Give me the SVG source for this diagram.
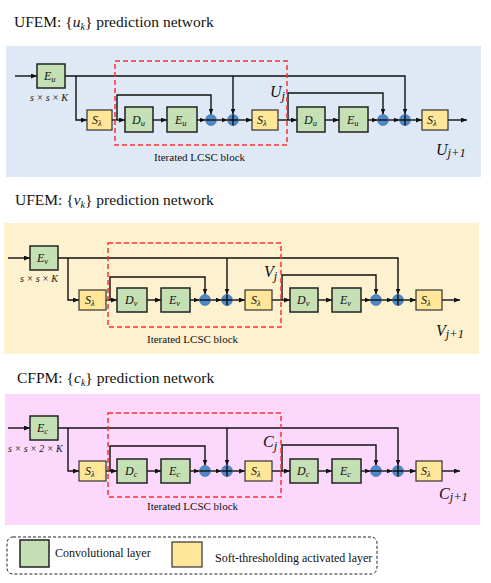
<svg xmlns="http://www.w3.org/2000/svg" width="491" height="583" viewBox="0 0 491 583">
<defs>
<marker id="ar" markerWidth="6" markerHeight="5" refX="6" refY="2.5" orient="auto" markerUnits="userSpaceOnUse"><path d="M0,0 L6,2.5 L0,5 Z" fill="#111"/></marker>
<style>
.t{font-family:"Liberation Serif",serif;fill:#111}
.title{font-size:15.5px}
.it{font-style:italic}
.conv{fill:#c5e0b4;stroke:#222;stroke-width:1.5}
.soft{fill:#ffe699;stroke:#333;stroke-width:1.2}
.ln{fill:none;stroke:#111;stroke-width:1.4}
.arr{fill:none;stroke:#111;stroke-width:1.4;marker-end:url(#ar)}
.sum{fill:#4d88c8;stroke:#3a6fa8;stroke-width:0.6}
.red{fill:none;stroke:#ff3030;stroke-width:1.5;stroke-dasharray:5,3}
.bl{font-family:"Liberation Serif",serif;font-style:italic;font-size:12px;fill:#111}
.sub{font-size:8.5px}
.lab{font-family:"Liberation Serif",serif;font-style:italic;font-size:16px;fill:#111}
.small{font-family:"Liberation Serif",serif;font-size:11px;fill:#111}
.dim{font-family:"Liberation Serif",serif;font-style:italic;font-size:10px;fill:#111}
.leg{font-family:"Liberation Serif",serif;font-size:12px;fill:#111}
</style>
</defs>

<!-- Panel backgrounds -->
<rect x="6" y="46" width="475" height="131" fill="#dfe9f5"/>
<rect x="4" y="223" width="475" height="131" fill="#fdf1cf"/>
<rect x="5" y="394" width="475" height="131" fill="#fcd9fc"/>

<!-- Titles -->
<text class="t title" x="14" y="27">UFEM:  {<tspan class="it">u</tspan><tspan class="it" font-size="10" dy="3">k</tspan><tspan dy="-3">} prediction network</tspan></text>
<text class="t title" x="15" y="205">UFEM: {<tspan class="it">v</tspan><tspan class="it" font-size="10" dy="3">k</tspan><tspan dy="-3">} prediction network</tspan></text>
<text class="t title" x="17" y="383">CFPM: {<tspan class="it">c</tspan><tspan class="it" font-size="10" dy="3">k</tspan><tspan dy="-3">} prediction network</tspan></text>

<!-- Connectors -->
<g id="connectors">
<!-- panel 1 -->
<path class="arr" d="M15,76 H37"/>
<path class="arr" d="M65,76 H405 V114.5"/>
<path class="arr" d="M233,76 V114.5"/>
<path class="arr" d="M76,76 V120 H87"/>
<path class="arr" d="M112,120 H125"/>
<path class="arr" d="M117,120 V95 H211 V114.5"/>
<path class="arr" d="M153,120 H167"/>
<path class="arr" d="M197,120 H205.5"/>
<path class="arr" d="M216.5,120 H227.5"/>
<path class="arr" d="M238.5,120 H252"/>
<path class="arr" d="M278,120 H297"/>
<path class="arr" d="M288,120 V93 H383 V114.5"/>
<path class="arr" d="M325,120 H339"/>
<path class="arr" d="M368,120 H377.5"/>
<path class="arr" d="M388.5,120 H399.5"/>
<path class="arr" d="M410.5,120 H422"/>
<path class="arr" d="M448,120 H467"/>
<!-- panel 2 -->
<path class="arr" d="M8,258 H30"/>
<path class="arr" d="M58,258 H398 V294.5"/>
<path class="arr" d="M227,258 V294.5"/>
<path class="arr" d="M68,258 V300 H79"/>
<path class="arr" d="M106,300 H117"/>
<path class="arr" d="M110,300 V277 H205 V294.5"/>
<path class="arr" d="M147,300 H161"/>
<path class="arr" d="M190,300 H199.5"/>
<path class="arr" d="M210.5,300 H221.5"/>
<path class="arr" d="M232.5,300 H245"/>
<path class="arr" d="M272,300 H290"/>
<path class="arr" d="M282,300 V275 H376 V294.5"/>
<path class="arr" d="M318,300 H332"/>
<path class="arr" d="M361,300 H370.5"/>
<path class="arr" d="M381.5,300 H392.5"/>
<path class="arr" d="M403.5,300 H416"/>
<path class="arr" d="M442,300 H460"/>
<!-- panel 3 -->
<path class="arr" d="M8,428 H30"/>
<path class="arr" d="M58,428 H398 V465.5"/>
<path class="arr" d="M227,428 V465.5"/>
<path class="arr" d="M68,428 V471 H79"/>
<path class="arr" d="M106,471 H117"/>
<path class="arr" d="M110,471 V446 H205 V465.5"/>
<path class="arr" d="M147,471 H161"/>
<path class="arr" d="M190,471 H199.5"/>
<path class="arr" d="M210.5,471 H221.5"/>
<path class="arr" d="M232.5,471 H245"/>
<path class="arr" d="M272,471 H290"/>
<path class="arr" d="M282,471 V445 H376 V465.5"/>
<path class="arr" d="M318,471 H332"/>
<path class="arr" d="M361,471 H370.5"/>
<path class="arr" d="M381.5,471 H392.5"/>
<path class="arr" d="M403.5,471 H416"/>
<path class="arr" d="M442,471 H460"/>
</g>

<!-- Panel 1 nodes -->
<g id="p1-Eu0"><rect class="conv" x="37" y="64" width="28" height="24"/><text class="bl" x="44" y="80">E<tspan class="sub" dy="2">u</tspan></text></g>
<g id="p1-S1"><rect class="soft" x="87" y="110" width="25" height="20"/><text class="bl" x="92" y="124">S<tspan class="sub" dy="2">λ</tspan></text></g>
<g id="p1-D1"><rect class="conv" x="125" y="107" width="28" height="25"/><text class="bl" x="132" y="124">D<tspan class="sub" dy="2">u</tspan></text></g>
<g id="p1-E1"><rect class="conv" x="167" y="107" width="30" height="25"/><text class="bl" x="175" y="124">E<tspan class="sub" dy="2">u</tspan></text></g>
<g id="p1-m1"><circle class="sum" cx="211" cy="120" r="5.5"/><path class="ln" d="M205.5,120 H216.5"/></g>
<g id="p1-p1"><circle class="sum" cx="233" cy="120" r="5.5"/><path class="ln" d="M227.5,120 H238.5 M233,114.5 V125.5"/></g>
<g id="p1-S2"><rect class="soft" x="252" y="110" width="26" height="20"/><text class="bl" x="257" y="124">S<tspan class="sub" dy="2">λ</tspan></text></g>
<g id="p1-D2"><rect class="conv" x="297" y="107" width="28" height="25"/><text class="bl" x="304" y="124">D<tspan class="sub" dy="2">u</tspan></text></g>
<g id="p1-E2"><rect class="conv" x="339" y="107" width="29" height="25"/><text class="bl" x="347" y="124">E<tspan class="sub" dy="2">u</tspan></text></g>
<g id="p1-m2"><circle class="sum" cx="383" cy="120" r="5.5"/><path class="ln" d="M377.5,120 H388.5"/></g>
<g id="p1-p2"><circle class="sum" cx="405" cy="120" r="5.5"/><path class="ln" d="M399.5,120 H410.5 M405,114.5 V125.5"/></g>
<g id="p1-S3"><rect class="soft" x="422" y="110" width="26" height="20"/><text class="bl" x="427" y="124">S<tspan class="sub" dy="2">λ</tspan></text></g>
<rect class="red" x="115" y="61" width="172" height="84"/>
<text class="lab" x="270" y="97">U<tspan font-size="12.5" dy="3">j</tspan></text>
<text class="lab" x="436" y="155">U<tspan font-size="12.5" dy="2">j+1</tspan></text>
<text class="dim" x="30" y="101">s × s × K</text>
<text class="small" x="154" y="161">Iterated LCSC block</text>

<!-- Panel 2 nodes -->
<g id="p2-Ev0"><rect class="conv" x="30" y="246" width="28" height="24"/><text class="bl" x="37" y="262">E<tspan class="sub" dy="2">v</tspan></text></g>
<g id="p2-S1"><rect class="soft" x="79" y="290" width="27" height="20"/><text class="bl" x="85" y="304">S<tspan class="sub" dy="2">λ</tspan></text></g>
<g id="p2-D1"><rect class="conv" x="117" y="288" width="30" height="24"/><text class="bl" x="125" y="304">D<tspan class="sub" dy="2">v</tspan></text></g>
<g id="p2-E1"><rect class="conv" x="161" y="288" width="29" height="24"/><text class="bl" x="169" y="304">E<tspan class="sub" dy="2">v</tspan></text></g>
<g id="p2-m1"><circle class="sum" cx="205" cy="300" r="5.5"/><path class="ln" d="M199.5,300 H210.5"/></g>
<g id="p2-p1"><circle class="sum" cx="227" cy="300" r="5.5"/><path class="ln" d="M221.5,300 H232.5 M227,294.5 V305.5"/></g>
<g id="p2-S2"><rect class="soft" x="245" y="290" width="27" height="20"/><text class="bl" x="251" y="304">S<tspan class="sub" dy="2">λ</tspan></text></g>
<g id="p2-D2"><rect class="conv" x="290" y="288" width="28" height="24"/><text class="bl" x="297" y="304">D<tspan class="sub" dy="2">v</tspan></text></g>
<g id="p2-E2"><rect class="conv" x="332" y="288" width="29" height="24"/><text class="bl" x="340" y="304">E<tspan class="sub" dy="2">v</tspan></text></g>
<g id="p2-m2"><circle class="sum" cx="376" cy="300" r="5.5"/><path class="ln" d="M370.5,300 H381.5"/></g>
<g id="p2-p2"><circle class="sum" cx="398" cy="300" r="5.5"/><path class="ln" d="M392.5,300 H403.5 M398,294.5 V305.5"/></g>
<g id="p2-S3"><rect class="soft" x="416" y="290" width="26" height="20"/><text class="bl" x="421" y="304">S<tspan class="sub" dy="2">λ</tspan></text></g>
<rect class="red" x="108" y="243" width="173" height="84"/>
<text class="lab" x="264" y="277">V<tspan font-size="12.5" dy="3">j</tspan></text>
<text class="lab" x="436" y="336">V<tspan font-size="12.5" dy="2">j+1</tspan></text>
<text class="dim" x="20" y="282">s × s × K</text>
<text class="small" x="147" y="343">Iterated LCSC block</text>

<!-- Panel 3 nodes -->
<g id="p3-Ec0"><rect class="conv" x="30" y="416" width="28" height="24"/><text class="bl" x="37" y="432">E<tspan class="sub" dy="2">c</tspan></text></g>
<g id="p3-S1"><rect class="soft" x="79" y="461" width="27" height="20"/><text class="bl" x="85" y="475">S<tspan class="sub" dy="2">λ</tspan></text></g>
<g id="p3-D1"><rect class="conv" x="117" y="459" width="30" height="24"/><text class="bl" x="125" y="475">D<tspan class="sub" dy="2">c</tspan></text></g>
<g id="p3-E1"><rect class="conv" x="161" y="459" width="29" height="24"/><text class="bl" x="169" y="475">E<tspan class="sub" dy="2">c</tspan></text></g>
<g id="p3-m1"><circle class="sum" cx="205" cy="471" r="5.5"/><path class="ln" d="M199.5,471 H210.5"/></g>
<g id="p3-p1"><circle class="sum" cx="227" cy="471" r="5.5"/><path class="ln" d="M221.5,471 H232.5 M227,465.5 V476.5"/></g>
<g id="p3-S2"><rect class="soft" x="245" y="461" width="27" height="20"/><text class="bl" x="251" y="475">S<tspan class="sub" dy="2">λ</tspan></text></g>
<g id="p3-D2"><rect class="conv" x="290" y="459" width="28" height="24"/><text class="bl" x="297" y="475">D<tspan class="sub" dy="2">c</tspan></text></g>
<g id="p3-E2"><rect class="conv" x="332" y="459" width="29" height="24"/><text class="bl" x="340" y="475">E<tspan class="sub" dy="2">c</tspan></text></g>
<g id="p3-m2"><circle class="sum" cx="376" cy="471" r="5.5"/><path class="ln" d="M370.5,471 H381.5"/></g>
<g id="p3-p2"><circle class="sum" cx="398" cy="471" r="5.5"/><path class="ln" d="M392.5,471 H403.5 M398,465.5 V476.5"/></g>
<g id="p3-S3"><rect class="soft" x="416" y="461" width="26" height="20"/><text class="bl" x="421" y="475">S<tspan class="sub" dy="2">λ</tspan></text></g>
<rect class="red" x="108" y="413" width="173" height="84"/>
<text class="lab" x="263" y="447">C<tspan font-size="12.5" dy="3">j</tspan></text>
<text class="lab" x="439" y="499">C<tspan font-size="12.5" dy="2">j+1</tspan></text>
<text class="dim" x="8" y="452">s × s × 2 × K</text>
<text class="small" x="147" y="510">Iterated LCSC block</text>

<!-- Legend -->
<g id="legend">
<rect x="7" y="537" width="370" height="37" rx="6" fill="none" stroke="#222" stroke-width="1" stroke-dasharray="3,2"/>
<rect class="conv" x="20" y="540" width="29" height="27"/>
<text class="leg" x="55" y="557" font-size="11.5">Convolutional layer</text>
<rect class="soft" x="172" y="542" width="30" height="25"/>
<text class="leg" x="215" y="562">Soft-thresholding activated layer</text>
</g>
</svg>
